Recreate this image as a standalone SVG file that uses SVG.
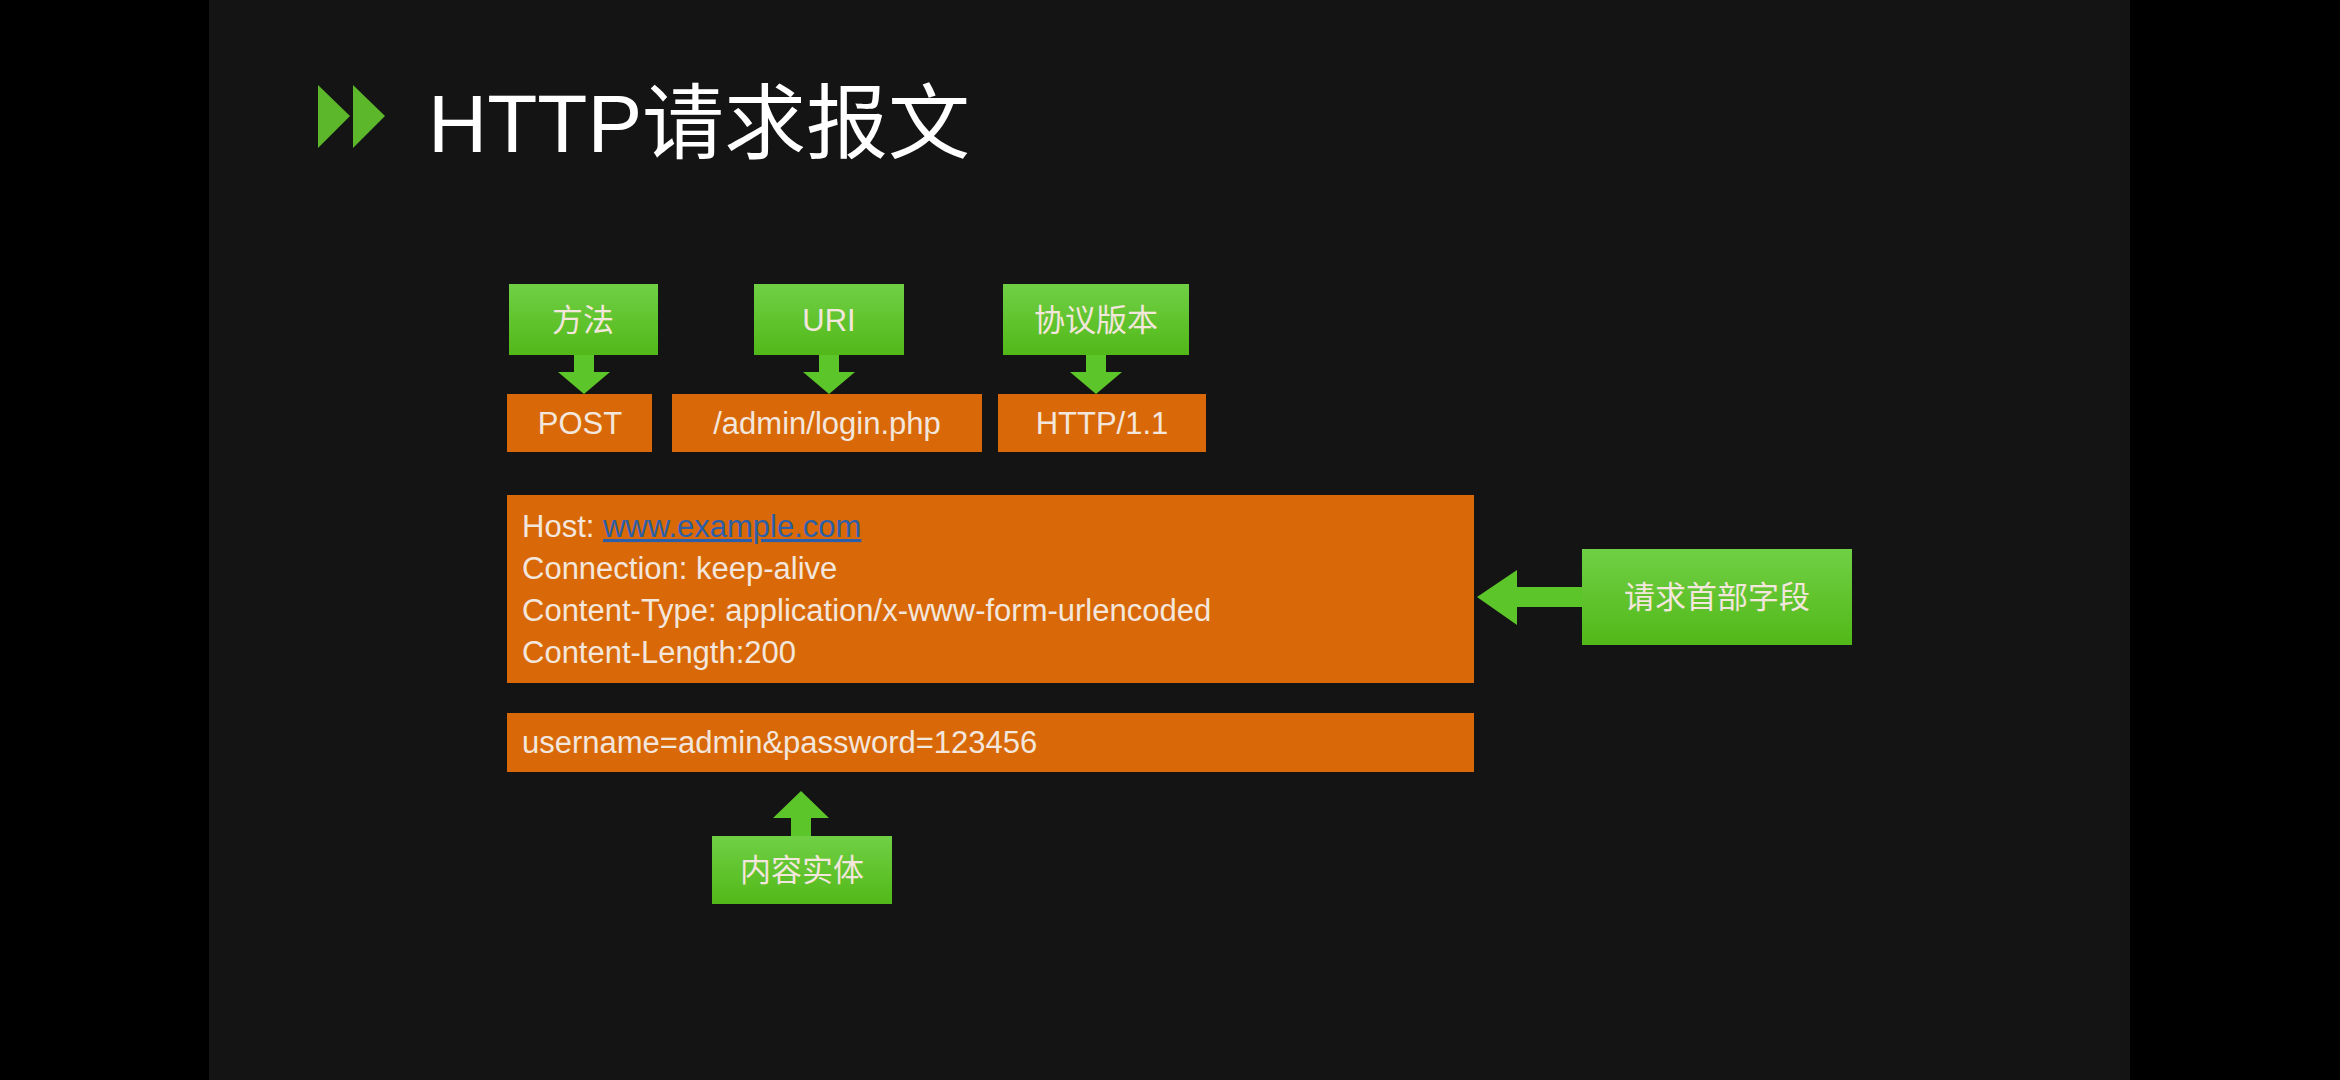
<svg xmlns="http://www.w3.org/2000/svg" width="2340" height="1080" viewBox="0 0 2340 1080">
<defs>
<linearGradient id="g" x1="0" y1="0" x2="0" y2="1"><stop offset="0" stop-color="#70d045"/><stop offset="1" stop-color="#52b818"/></linearGradient>
<style>
.gb{fill:url(#g)}
.ob{fill:#d96908}
.lt{font-family:"Liberation Sans","Noto Sans CJK SC",sans-serif;font-size:31px;fill:#f3e6dc}
.ct{text-anchor:middle}
.ar{fill:#5cc52a}
</style>
</defs>
<rect width="2340" height="1080" fill="#000"/>
<rect x="209" y="0" width="1921" height="1080" fill="#141414"/>
<g id="title">
<polygon points="318,85 350,116 318,148" fill="#5cb82a"/>
<polygon points="353,85 385,116 353,148" fill="#5cb82a"/>
<text x="428" y="152" font-family="Liberation Sans,'Noto Sans CJK SC',sans-serif" font-size="82" fill="#fff">HTTP请求报文</text>
</g>
<g id="connectors">
<polygon class="ar" points="574,355 594,355 594,372 610,372 584,394 558,372 574,372"/>
<polygon class="ar" points="819,355 839,355 839,372 855,372 829,394 803,372 819,372"/>
<polygon class="ar" points="1086,355 1106,355 1106,372 1122,372 1096,394 1070,372 1086,372"/>
<polygon class="ar" points="1582,587 1517,587 1517,570 1477,597 1517,625 1517,607 1582,607"/>
<polygon class="ar" points="791,836 811,836 811,818 829,818 801,791 773,818 791,818"/>
</g>
<g id="n-method"><rect class="gb" x="509" y="284" width="149" height="71"/><text class="lt ct" x="583" y="331">方法</text></g>
<g id="n-uri"><rect class="gb" x="754" y="284" width="150" height="71"/><text class="lt ct" x="829" y="331">URI</text></g>
<g id="n-ver"><rect class="gb" x="1003" y="284" width="186" height="71"/><text class="lt ct" x="1096" y="331">协议版本</text></g>
<g id="n-post"><rect class="ob" x="507" y="394" width="145" height="58"/><text class="lt ct" x="580" y="434">POST</text></g>
<g id="n-path"><rect class="ob" x="672" y="394" width="310" height="58"/><text class="lt ct" x="827" y="434">/admin/login.php</text></g>
<g id="n-http"><rect class="ob" x="998" y="394" width="208" height="58"/><text class="lt ct" x="1102" y="434">HTTP/1.1</text></g>
<g id="n-headers"><rect class="ob" x="507" y="495" width="967" height="188"/>
<text class="lt" x="522" y="537">Host: <tspan fill="#2d5fa8" text-decoration="underline">www.example.com</tspan></text>
<text class="lt" x="522" y="579">Connection: keep-alive</text>
<text class="lt" x="522" y="621">Content-Type: application/x-www-form-urlencoded</text>
<text class="lt" x="522" y="663">Content-Length:200</text>
</g>
<g id="n-body"><rect class="ob" x="507" y="713" width="967" height="59"/><text class="lt" x="522" y="753">username=admin&amp;password=123456</text></g>
<g id="n-hlabel"><rect class="gb" x="1582" y="549" width="270" height="96"/><text class="lt ct" x="1717" y="608">请求首部字段</text></g>
<g id="n-blabel"><rect class="gb" x="712" y="836" width="180" height="68"/><text class="lt ct" x="802" y="881">内容实体</text></g>
</svg>
